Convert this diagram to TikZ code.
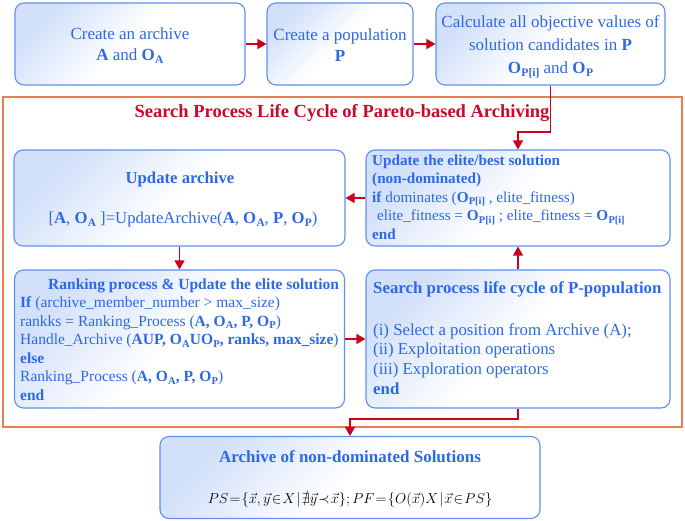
\documentclass[tikz,border=0pt]{standalone}
\usepackage{amssymb}
\usepackage{fontspec}
\setmainfont{Liberation Serif}
\usetikzlibrary{arrows.meta,calc}
\definecolor{txtblue}{RGB}{45,105,230}
\definecolor{bordblue}{RGB}{95,145,240}
\definecolor{fillblue}{RGB}{210,224,250}
\definecolor{arrred}{RGB}{205,0,30}
\definecolor{orangeb}{RGB}{235,125,85}
\definecolor{titlered}{RGB}{200,10,40}
\newcommand{\Ob}[1]{\textbf{O}\kern0.3pt\raisebox{-0.35ex}{\scalebox{0.68}{\textbf{#1}}}}
\begin{document}
\begin{tikzpicture}[x=1pt,y=-1pt,
  box/.style={draw=bordblue, line width=1.1pt, rounded corners=9pt,
    top color=fillblue, bottom color=white, middle color=white, shading angle=45, inner sep=0pt},
  arr/.style={draw=arrred, line width=1.4pt, -{Triangle[length=9pt,width=10pt]}},
  txt/.style={text=txtblue, inner sep=0pt, align=center},
  ltxt/.style={text=txtblue, inner sep=0pt, align=left, anchor=north west},
  frame/.style={draw=orangeb, line width=1.2pt, inner sep=0pt}
  ]
\useasboundingbox (0,0) rectangle (685,521);
\fill[white] (0,0) rectangle (685,521);
% orange frame
\node[frame, minimum width=679pt, minimum height=330pt] (frm) at (342.5,262) {};
\node[text=titlered, font=\fontsize{18.5}{20}\selectfont\bfseries, inner sep=0pt] (ttl) at (342,113) {Search Process Life Cycle of Pareto-based Archiving};
% boxes
\node[box, minimum width=230pt, minimum height=82pt] (b1) at (130,44) {};
\node[box, minimum width=146pt, minimum height=82pt] (b2) at (340,44) {};
\node[box, minimum width=229pt, minimum height=82pt] (b3) at (550.5,44) {};
\node[box, minimum width=331pt, minimum height=96pt] (upd) at (179.5,198) {};
\node[box, minimum width=304pt, minimum height=96pt] (elite) at (518,198) {};
\node[box, minimum width=330pt, minimum height=138pt] (rank) at (179.5,339) {};
\node[box, minimum width=304pt, minimum height=138pt] (search) at (518,339) {};
\node[box, minimum width=380pt, minimum height=82pt] (arch) at (350,477.5) {};
% texts
\node[txt, font=\fontsize{17}{21}\selectfont] (t1) at (130,45.5) {Create an archive\\\textbf{A} and \Ob{A}};
\node[txt, font=\fontsize{17}{21}\selectfont] (t2) at (340,45.5) {Create a population\\\textbf{P}};
\node[txt, font=\fontsize{17}{23}\selectfont] (t3) at (550.5,46.5) {Calculate all objective values of\\solution candidates in \textbf{P}\\\Ob{P[i]} and \Ob{P}};
\node[txt, font=\fontsize{16.7}{18}\selectfont\bfseries] (tu1) at (180,179) {Update archive};
\node[txt, font=\fontsize{16.7}{18}\selectfont] (tu2) at (183,219.5) {[\textbf{A}, \Ob{A} ]=UpdateArchive(\textbf{A}, \Ob{A}, \textbf{P}, \Ob{P})};
\node[ltxt, font=\fontsize{15.2}{18.5}\selectfont] (te) at (372,154.5) {\textbf{Update the elite/best solution}\\
\textbf{(non-dominated)}\\
\textbf{if} dominates (\Ob{P[i]} , elite\_fitness)\\
\hspace*{5pt}elite\_fitness = \Ob{P[i]} ; elite\_fitness = \Ob{P[i]}\\
\textbf{end}};
\node[ltxt, font=\fontsize{15.5}{18.5}\selectfont] (tr) at (20,278.5) {\hspace*{28pt}\textbf{Ranking process \& Update the elite solution}\\
\textbf{If} (archive\_member\_number > max\_size)\\
rankks = Ranking\_Process (\textbf{A, \Ob{A}, P, \Ob{P}})\\
Handle\_Archive (\textbf{AUP, \Ob{A}U\Ob{P}, ranks, max\_size})\\
\textbf{else}\\
Ranking\_Process (\textbf{A, \Ob{A}, P, \Ob{P}})\\
\textbf{end}};
\node[ltxt, font=\fontsize{16.8}{19.7}\selectfont] (ts) at (373,281) {\textbf{Search process life cycle of P-population}\\[22.5pt]
(i) Select a position from Archive (A);\\
(ii) Exploitation operations\\
(iii) Exploration operators\\
\textbf{end}};
\node[txt, font=\fontsize{17}{19}\selectfont\bfseries] (ta1) at (350,457) {Archive of non-dominated Solutions};
\node[inner sep=0pt, font=\fontsize{14.5}{16}\selectfont] (ta2) at (350,500) {\thickmuskip=1.5mu\medmuskip=1mu $PS=\{\vec{x},\vec{y}\in X\mid \nexists\vec{y}\prec\vec{x}\};PF=\{O(\vec{x})X\mid\vec{x}\in PS\}$};
% connectors
\coordinate (k1) at (518,132);
\coordinate (k2) at (350,419);
\draw[arr] (b1.east) -- (b2.west);
\draw[arr] (b2.east) -- (b3.west);
\draw[arr] (b3.south) |- (k1) -- (elite.north);
\draw[arr] (elite.west) -- (upd.east);
\draw[arr] (upd.south) -- (rank.north);
\draw[arr] (rank.east) -- (search.west);
\draw[arr] (search.north) -- (elite.south);
\draw[arr] (search.south) |- (k2) -- (arch.north);
\end{tikzpicture}
\end{document}
